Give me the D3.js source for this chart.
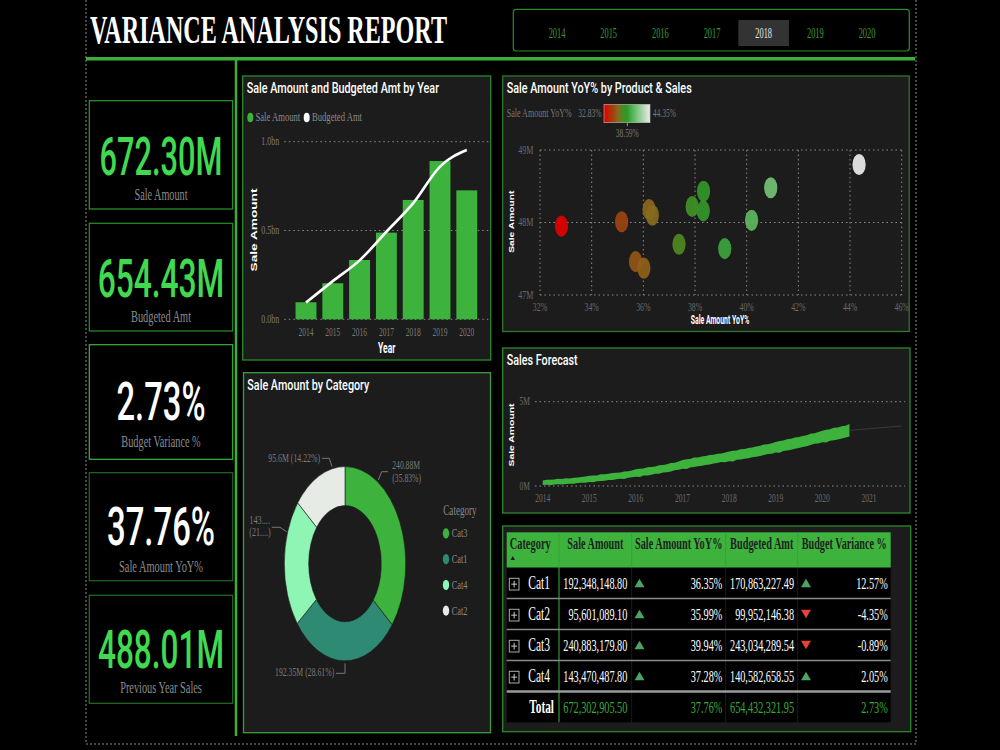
<!DOCTYPE html>
<html><head><meta charset="utf-8">
<script src="https://cdn.jsdelivr.net/npm/d3@7"></script>
<style>html,body{margin:0;padding:0;background:#000;} svg{display:block;} .ns{vector-effect:non-scaling-stroke;}</style>
</head><body><svg id="c" width="1000" height="750"></svg>
<script>
// ---------------- DATA ----------------
const years = ["2014","2015","2016","2017","2018","2019","2020"];
const selectedYear = "2018";
const saleAmtBn = [0.096, 0.203, 0.334, 0.488, 0.672, 0.891, 0.726];
const budgetAmtBn = [0.094, 0.215, 0.332, 0.493, 0.654, 0.860, 0.953];
const barYTicks = [0, 0.5, 1.0];
const barYTickLabels = ["0.0bn","0.5bn","1.0bn"];

const kpiValues = ["672.30M","654.43M","2.73%","37.76%","488.01M"];
const kpiLabels = ["Sale Amount","Budgeted Amt","Budget Variance %","Sale Amount YoY%","Previous Year Sales"];
const kpiGreen = [true, true, false, false, true];

const scatterYoY   = [32.83, 35.16, 36.22, 36.35, 35.70, 36.02, 37.38, 37.89, 38.33, 38.32, 39.15, 40.19, 40.93, 44.35];
const scatterSales = [47.95, 48.01, 48.18, 48.10, 47.46, 47.37, 47.70, 48.22, 48.43, 48.16, 47.64, 48.03, 48.48, 48.80];
const scatterXTicks = [32,34,36,38,40,42,44,46];
const scatterYTicks = [47,48,49];
const yoyLegend = [32.83, 38.59, 44.35];

const donutCats = ["Cat3","Cat1","Cat4","Cat2"];
const donutValuesM = [240.88, 192.35, 143.47, 95.60];
const donutLabelLines = [["240.88M","(35.83%)"],["192.35M (28.61%)"],["143....","(21....)"],["95.6M (14.22%)"]];

const forecastLow = [
 0.06,0.07,0.04,0.09,0.10,0.09,0.12,0.14,0.13,0.18,0.19,0.20,
 0.23,0.22,0.28,0.29,0.31,0.36,0.35,0.40,0.43,0.42,0.49,0.52,
 0.55,0.53,0.62,0.63,0.66,0.73,0.72,0.80,0.82,0.86,0.93,0.97,
 1.02,1.01,1.10,1.12,1.17,1.20,1.25,1.28,1.33,1.36,1.43,1.41,
 1.47,1.46,1.55,1.57,1.61,1.64,1.70,1.74,1.78,1.84,1.90,1.91,
 1.98,1.97,2.08,2.11,2.15,2.21,2.26,2.31,2.36,2.43,2.51,2.52,
 2.59,2.58,2.69,2.72,2.76,2.82,2.88,2.93];
const forecastHigh = [
 0.33,0.37,0.37,0.38,0.43,0.41,0.46,0.44,0.49,0.51,0.53,0.56,
 0.61,0.62,0.63,0.69,0.69,0.72,0.77,0.78,0.80,0.86,0.87,0.92,
 0.99,1.03,1.04,1.11,1.12,1.16,1.23,1.24,1.29,1.36,1.38,1.46,
 1.54,1.58,1.60,1.69,1.69,1.75,1.78,1.84,1.85,1.92,1.93,1.99,
 2.05,2.09,2.11,2.18,2.19,2.26,2.29,2.34,2.38,2.46,2.47,2.54,
 2.61,2.67,2.70,2.78,2.80,2.87,2.91,2.97,3.01,3.10,3.13,3.21,
 3.28,3.34,3.37,3.45,3.47,3.54,3.58,3.68];
const forecastStart = new Date(2014,0,1);
const projDates = [new Date(2020,7,1), new Date(2021,8,15)];
const projValues = [3.30, 3.56];
const forecastYTicks = [0,5];

const tableCats = ["Cat1","Cat2","Cat3","Cat4"];
const tableSale = [192348148.80, 95601089.10, 240883179.80, 143470487.80];
const tableYoY = [36.35, 35.99, 39.94, 37.28];
const tableBudget = [170863227.49, 99952146.38, 243034289.54, 140582658.55];
const tableVar = [12.57, -4.35, -0.89, 2.05];
const tableTotal = [672302905.50, 37.76, 654432321.95, 2.73];
const tableHeaders = ["Sale Amount","Sale Amount YoY%","Budgeted Amt","Budget Variance %"];

// ---------------- HELPERS ----------------
const SY = 1.6;
const SERIF = "'Liberation Serif','Times New Roman',serif";
const SANS = "Roboto,'Liberation Sans',sans-serif";
const BSANS = "'Liberation Sans',Arial,sans-serif";
const GREEN = "#3db33d";
const svg = d3.select('#c');
svg.append('rect').attr('width',1000).attr('height',750).attr('fill','#000');

function T(p, x, y, s, o = {}) {
  const t = p.append('text').attr('transform', `translate(${x},${y}) scale(1,${SY})`).text(s)
    .attr('font-family', o.ff || SERIF).attr('font-size', o.fs || 8).attr('fill', o.fill || '#888')
    .attr('text-anchor', o.anchor || 'start').attr('font-weight', o.fw || 'normal');
  if (o.w) t.attr('textLength', o.w).attr('lengthAdjust', 'spacingAndGlyphs');
  return t;
}
function TR(p, x, y, s, o = {}) {
  const t = p.append('text').attr('transform', `translate(${x},${y}) rotate(-90) scale(${SY},1)`).text(s)
    .attr('font-family', o.ff || BSANS).attr('font-size', o.fs || 8).attr('fill', o.fill || '#fff')
    .attr('text-anchor', 'middle').attr('font-weight', o.fw || 'bold');
  if (o.w) t.attr('textLength', o.w / SY).attr('lengthAdjust', 'spacingAndGlyphs');
  return t;
}
function line(p, x1, y1, x2, y2, stroke, sw, dash) {
  const l = p.append('line').attr('x1',x1).attr('y1',y1).attr('x2',x2).attr('y2',y2)
    .attr('stroke',stroke).attr('stroke-width',sw||1);
  if (dash) l.attr('stroke-dasharray', dash);
  return l;
}
function panel(x, y, w, h, stroke) {
  svg.append('rect').attr('x',x).attr('y',y).attr('width',w).attr('height',h)
    .attr('fill','#1c1c1c').attr('stroke',stroke||'#2b8a2b').attr('stroke-width',1.3);
}
const DOT = "1.5,3";
const GRID = "#8a8a8a";

// ---------------- FRAME ----------------
line(svg, 86, 0, 86, 744, '#8a8a8a', 1, "2,2");
line(svg, 916, 0, 916, 744, '#8a8a8a', 1, "2,2");
line(svg, 86, 744, 916, 744, '#8a8a8a', 1, "2,2");
line(svg, 86, 58.7, 915, 58.7, '#3dae3d', 3.5);
line(svg, 236, 60, 236, 736, '#3dae3d', 2.5);

T(svg, 90, 43, "VARIANCE ANALYSIS REPORT", {fs:24.6, fw:'bold', fill:'#fff', w:357});

// slicer
svg.append('rect').attr('x',513.3).attr('y',9.3).attr('width',396).attr('height',41.7).attr('rx',3)
  .attr('fill','none').attr('stroke','#2b8a2b').attr('stroke-width',1.2);
const slx = d3.scalePoint().domain(years).range([557, 867]);
svg.append('rect').attr('x', slx(selectedYear) - 25.3).attr('y',20).attr('width',50.6).attr('height',26).attr('fill','#333');
years.forEach(y => T(svg, slx(y), 37.7, y, {fs:9, anchor:'middle', fill: y === selectedYear ? '#e8e8e8' : '#3a9a3a', w:16.7}));

// ---------------- KPI CARDS ----------------
const cardTop = [100.7, 223.3, 344.7, 472.7, 595.3];
const cardBot = [209, 331, 459.3, 580.7, 703.3];
const cardStroke = ['#2e9a2e','#2a8f2a','#3cb43c','#1f6a1f','#237023'];
const valBase = [175, 297, 420, 545, 668];
const valW = [123, 126.7, 89, 108, 126];
const labBase = [199.5, 322.3, 447.3, 572.3, 693.3];
const labW = [53, 60, 79.4, 84, 81.7];
kpiValues.forEach((v, i) => {
  svg.append('rect').attr('x',89.3).attr('y',cardTop[i]).attr('width',143.4).attr('height',cardBot[i]-cardTop[i])
    .attr('fill','#000').attr('stroke',cardStroke[i]).attr('stroke-width',1.2);
  T(svg, 161, valBase[i], v, {ff:SANS, fs:33.5, fw:500, fill: kpiGreen[i] ? '#41d94f' : '#ffffff', anchor:'middle', w:valW[i]});
  T(svg, 161, labBase[i], kpiLabels[i], {fs:10, fill:'#8a8a8a', anchor:'middle', w:labW[i]});
});

// ---------------- BAR CHART ----------------
panel(242.7, 76, 248, 284);
T(svg, 246.7, 93.3, "Sale Amount and Budgeted Amt by Year", {ff:SANS, fs:9.7, fw:500, fill:'#fff', w:192.3});
svg.append('ellipse').attr('cx',250.3).attr('cy',117.5).attr('rx',3).attr('ry',4.8).attr('fill',GREEN);
T(svg, 255.5, 121, "Sale Amount", {fs:8, fill:'#8a8a8a', w:44.7});
svg.append('ellipse').attr('cx',306.7).attr('cy',117.5).attr('rx',3).attr('ry',4.8).attr('fill','#fff');
T(svg, 312, 121, "Budgeted Amt", {fs:8, fill:'#8a8a8a', w:50});

const bx = d3.scaleBand().domain(years).range([292.6, 480.2]).paddingInner(0.22).paddingOuter(0.11);
const by = d3.scaleLinear().domain([0, 1]).range([319.3, 141.7]);
barYTicks.forEach((t, i) => {
  line(svg, 284.3, by(t), 488.3, by(t), GRID, 1, DOT);
  T(svg, 279.3, by(t) + 3.5, barYTickLabels[i], {fs:8, fill:'#7a7a7a', anchor:'end'});
});
svg.append('g').selectAll('rect').data(saleAmtBn).join('rect')
  .attr('x', (d, i) => bx(years[i])).attr('width', bx.bandwidth())
  .attr('y', d => by(d)).attr('height', d => by(0) - by(d)).attr('fill', GREEN);
svg.append('path').datum(budgetAmtBn)
  .attr('d', d3.line().x((d, i) => bx(years[i]) + bx.bandwidth() / 2).y(d => by(d)).curve(d3.curveMonotoneX))
  .attr('fill','none').attr('stroke','#fff').attr('stroke-width',2.6);
years.forEach(y => T(svg, bx(y) + bx.bandwidth() / 2, 335.7, y, {fs:7.5, fill:'#7a7a7a', anchor:'middle'}));
T(svg, 386.7, 353.3, "Year", {ff:SANS, fs:8.8, fw:'bold', fill:'#fff', anchor:'middle', w:17.3});
TR(svg, 256.7, 230, "Sale Amount", {fs:8.5, w:83});

// ---------------- SCATTER ----------------
panel(502.7, 76, 406.5, 255.5, '#2a7a2a');
T(svg, 506.7, 93.3, "Sale Amount YoY% by Product & Sales", {ff:SANS, fs:9.7, fw:500, fill:'#fff', w:185});
const yoyColor = d3.scaleLinear().domain([32.83,35.2,36.3,37.4,38.59,40.2,44.35])
  .range(["#e00000","#9c4510","#8a6a1e","#4e8a20","#2c9a2c","#5cb85c","#ececec"]);
const grad = svg.append('defs').append('linearGradient').attr('id','yoyGrad');
yoyColor.domain().forEach(d => grad.append('stop')
  .attr('offset', (d - yoyLegend[0]) / (yoyLegend[2] - yoyLegend[0])).attr('stop-color', yoyColor(d)));
T(svg, 506.7, 117.3, "Sale Amount YoY%", {fs:8, fill:'#777', w:65});
T(svg, 578.3, 117.3, yoyLegend[0].toFixed(2) + "%", {fs:8, fill:'#777', w:23.4});
svg.append('rect').attr('x',604).attr('y',104.3).attr('width',46).attr('height',18.4).attr('fill','url(#yoyGrad)')
  .attr('stroke','#bbb').attr('stroke-width',0.6);
T(svg, 652.7, 117.3, yoyLegend[2].toFixed(2) + "%", {fs:8, fill:'#777', w:23.3});
line(svg, 627.3, 122.7, 627.3, 126, '#999', 1);
T(svg, 627.3, 136.7, yoyLegend[1].toFixed(2) + "%", {fs:8, fill:'#777', anchor:'middle', w:23});

const sx = d3.scaleLinear().domain([32, 46]).range([540, 901.7]);
const sy = d3.scaleLinear().domain([47, 49]).range([295, 150]);
scatterYTicks.forEach(t => {
  line(svg, 540, sy(t), 902, sy(t), GRID, 1, DOT);
  T(svg, 533.3, sy(t) + 3.5, t + "M", {fs:8, fill:'#6a6a6a', anchor:'end'});
});
scatterXTicks.forEach(t => {
  line(svg, sx(t), 150, sx(t), 295, GRID, 1, DOT);
  T(svg, sx(t), 311, t + "%", {fs:7.8, fill:'#6a6a6a', anchor:'middle'});
});
svg.append('g').selectAll('ellipse').data(scatterYoY).join('ellipse')
  .attr('cx', d => sx(d)).attr('cy', (d, i) => sy(scatterSales[i]))
  .attr('rx', 6.6).attr('ry', 6.6 * SY).attr('fill', d => yoyColor(d)).attr('fill-opacity', 0.92);
T(svg, 720, 324.3, "Sale Amount YoY%", {ff:SANS, fs:7.5, fw:'bold', fill:'#fff', anchor:'middle', w:58.6});
TR(svg, 514, 221.7, "Sale Amount", {fs:7.5, w:62});

// ---------------- DONUT ----------------
panel(243.5, 372.7, 247, 360, '#3aa03a');
T(svg, 247.3, 390, "Sale Amount by Category", {ff:SANS, fs:9.7, fw:500, fill:'#fff', w:122});
const donutColors = d3.scaleOrdinal().domain(donutCats).range(["#3db33d","#2f8a74","#8ff5b5","#e6ebe6"]);
const pie = d3.pie().sort(null).value(d => d);
const arc = d3.arc().innerRadius(36.3).outerRadius(60.7);
svg.append('g').attr('transform', `translate(345,563.7) scale(1,${SY})`)
  .selectAll('path').data(pie(donutValuesM)).join('path')
  .attr('d', arc).attr('fill', (d, i) => donutColors(donutCats[i]))
  .attr('stroke','#1c1c1c').attr('stroke-width',0.6).attr('class','ns');
const leaders = [
  [[378.3,480],[381.7,471.7],[388,471.7]],
  [[336,673.3],[345,673.3],[345,663.3]],
  [[271.7,527.3],[280,527.3],[286.7,531.7]],
  [[322,458.3],[329.3,458.3],[332,466.7]]
];
const labPos = [[392.3,469.3,[27.7,28.7]],[275,676,[59.3]],[249.3,524,[20.7,21.4]],[268.3,461.7,[51.7]]];
donutLabelLines.forEach((lines, i) => {
  svg.append('path').attr('d', d3.line()(leaders[i])).attr('fill','none').attr('stroke','#777').attr('stroke-width',1);
  lines.forEach((s, j) => T(svg, labPos[i][0], labPos[i][1] + j * 12.4, s, {fs:7.6, fill:'#7a7a7a', w:labPos[i][2][j]}));
});
T(svg, 443.3, 515, "Category", {fs:9.1, fill:'#8a8a8a', w:33.3});
const legY = d3.scalePoint().domain(donutCats).range([533.3, 610.7]);
donutCats.forEach(c => {
  svg.append('ellipse').attr('cx',446).attr('cy',legY(c)).attr('rx',3.2).attr('ry',3.2*SY).attr('fill',donutColors(c));
  T(svg, 451.7, legY(c) + 4, c, {fs:8.3, fill:'#8a8a8a', w:15.7});
});

// ---------------- FORECAST ----------------
panel(502.7, 348, 407.3, 165);
T(svg, 506.7, 365, "Sales Forecast", {ff:SANS, fs:9.7, fw:500, fill:'#fff', w:71});
const fx = d3.scaleTime().domain([new Date(2014,0,1), new Date(2021,0,1)]).range([542.7, 869]);
const fy = d3.scaleLinear().domain([0, 5]).range([486, 401.7]);
forecastYTicks.forEach(t => {
  line(svg, 535, fy(t), 905, fy(t), GRID, 1, DOT);
  T(svg, 530, fy(t) + 3.5, t + "M", {fs:7.5, fill:'#6a6a6a', anchor:'end'});
});
fx.ticks(d3.timeYear.every(1)).forEach(d => T(svg, fx(d), 501.7, d.getFullYear(), {fs:7.5, fill:'#6a6a6a', anchor:'middle'}));
const monthDate = i => d3.timeMonth.offset(forecastStart, i);
svg.append('path').datum(forecastLow)
  .attr('d', d3.area().x((d, i) => fx(monthDate(i))).y0(d => fy(d)).y1((d, i) => fy(forecastHigh[i])))
  .attr('fill', GREEN);
svg.append('path').datum(projValues)
  .attr('d', d3.line().x((d, i) => fx(projDates[i])).y(d => fy(d)))
  .attr('fill','none').attr('stroke','#3a3a3a').attr('stroke-width',1);
TR(svg, 514, 435, "Sale Amount", {fs:7.5, w:63});

// ---------------- TABLE ----------------
panel(502.7, 526, 408, 205.7);
const colX = [506.7, 559, 631.7, 725.7, 797.7, 890.7];
svg.append('rect').attr('x',colX[0]).attr('y',532.3).attr('width',colX[5]-colX[0]).attr('height',35.4).attr('fill',GREEN);
svg.append('rect').attr('x',colX[0]).attr('y',567.7).attr('width',colX[5]-colX[0]).attr('height',154.6).attr('fill','#000');
for (let k = 1; k < 5; k++) {
  line(svg, colX[k], 532.3, colX[k], 567.7, '#34a334', 1);
  line(svg, colX[k], 567.7, colX[k], 722.3, k === 1 ? GREEN : '#1a1a1a', 1);
}
T(svg, 509.7, 549, "Category", {fs:10, fw:'bold', fill:'#1e1e1e', w:41});
svg.append('path').attr('d','M510.5,560 L515,560 L512.75,556 Z').attr('fill','#1e1e1e');
const hdrW = [56, 87.4, 63.3, 85];
tableHeaders.forEach((h, k) => T(svg, (colX[k+1] + colX[k+2]) / 2, 549, h, {fs:10, fw:'bold', fill:'#1e1e1e', anchor:'middle', w:hdrW[k]}));

const rowY = d3.scaleLinear().domain([0, 4]).range([589, 713]);
const fmt = d3.format(",.2f");
const numX = [627.3, 722.3, 794, 887.7];
const triX = [639.5, 806];
function tri(cx, cy, up) {
  const pts = up ? [[cx-5,cy+4.3],[cx+5,cy+4.3],[cx,cy-4.3]] : [[cx-5,cy-4.3],[cx+5,cy-4.3],[cx,cy+4.3]];
  svg.append('path').attr('d', d3.line()(pts) + 'Z').attr('fill', up ? '#4aa564' : '#e5403a');
}
tableCats.forEach((c, i) => {
  const yb = rowY(i);
  const sepW = i === 3 ? 2.5 : 1.5;
  line(svg, colX[0], yb + 9.5, colX[5], yb + 9.5, i === 3 ? '#9a9a9a' : '#8a8a8a', sepW);
  svg.append('rect').attr('x',509.3).attr('y',yb - 10.7).attr('width',9.7).attr('height',11.7)
    .attr('fill','none').attr('stroke','#aaa').attr('stroke-width',1);
  line(svg, 511.3, yb - 4.85, 517, yb - 4.85, '#ccc', 1);
  line(svg, 514.15, yb - 8.2, 514.15, yb - 1.5, '#ccc', 1);
  T(svg, 528.3, yb, c, {fs:11.5, fill:'#fff'});
  T(svg, numX[0], yb, fmt(tableSale[i]), {fs:10.25, fill:'#fff', anchor:'end'});
  tri(triX[0], yb - 6, tableYoY[i] >= 0);
  T(svg, numX[1], yb, tableYoY[i].toFixed(2) + "%", {fs:10.25, fill:'#fff', anchor:'end'});
  T(svg, numX[2], yb, fmt(tableBudget[i]), {fs:10.25, fill:'#fff', anchor:'end'});
  tri(triX[1], yb - 6, tableVar[i] >= 0);
  T(svg, numX[3], yb, tableVar[i].toFixed(2) + "%", {fs:10.25, fill:'#fff', anchor:'end'});
});
const yt = rowY(4);
T(svg, 554, yt, "Total", {fs:11.3, fw:'bold', fill:'#fff', anchor:'end'});
T(svg, numX[0], yt, fmt(tableTotal[0]), {fs:10.25, fill:'#3aaa3a', anchor:'end'});
T(svg, numX[1], yt, tableTotal[1].toFixed(2) + "%", {fs:10.25, fill:'#3aaa3a', anchor:'end'});
T(svg, numX[2], yt, fmt(tableTotal[2]), {fs:10.25, fill:'#3aaa3a', anchor:'end'});
T(svg, numX[3], yt, tableTotal[3].toFixed(2) + "%", {fs:10.25, fill:'#3aaa3a', anchor:'end'});
</script></body></html>
